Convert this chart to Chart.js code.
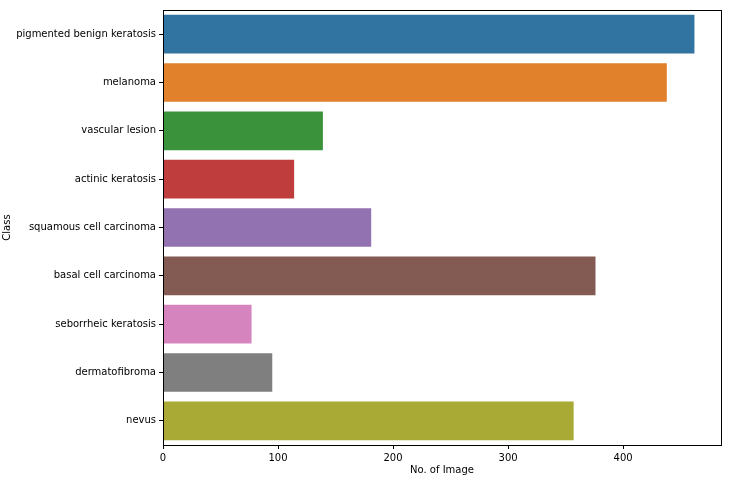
<!DOCTYPE html>
<html><head><meta charset="utf-8">
<script src="https://cdn.jsdelivr.net/npm/chart.js@4.4.0/dist/chart.umd.min.js"></script>
<style>html,body{margin:0;padding:0;background:#fff}#wrap{width:742px;height:491px}</style>
</head><body><div id="wrap"><canvas id="c" width="742" height="491"></canvas></div>
<script>
const categories = ["pigmented benign keratosis","melanoma","vascular lesion","actinic keratosis","squamous cell carcinoma","basal cell carcinoma","seborrheic keratosis","dermatofibroma","nevus"];
const counts = [462, 438, 139, 114, 181, 376, 77, 95, 357];
const colors = ["#3274a1","#e1812c","#3a923a","#c03d3e","#9372b2","#845b53","#d684bd","#7f7f7f","#a9aa35"];
const xTicks = [0, 100, 200, 300, 400];
const xMax = Math.max(...counts) * 1.05;

const boxPlugin = {
  id: 'box',
  afterDraw(chart) {
    const a = chart.chartArea, ctx = chart.ctx;
    ctx.save();
    ctx.strokeStyle = '#000';
    ctx.lineWidth = 1;
    ctx.strokeRect(Math.round(a.left) + 0.5, Math.round(a.top) + 0.5, Math.round(a.right - a.left), Math.round(a.bottom - a.top));
    ctx.restore();
  }
};

Chart.defaults.font.family = "'DejaVu Sans', sans-serif";
Chart.defaults.font.size = 10;
Chart.defaults.color = '#000';

new Chart(document.getElementById('c'), {
  type: 'bar',
  data: {
    labels: categories,
    datasets: [{ data: counts, backgroundColor: colors, borderWidth: 0, categoryPercentage: 0.8, barPercentage: 1.0 }]
  },
  options: {
    indexAxis: 'y',
    responsive: false,
    animation: false,
    devicePixelRatio: 1,
    layout: { padding: { top: 10, right: 21, left: 0, bottom: 15 } },
    plugins: { legend: { display: false }, tooltip: { enabled: false } },
    scales: {
      x: {
        type: 'linear', min: 0, max: xMax,
        afterBuildTicks(s) { s.ticks = xTicks.map(v => ({ value: v })); },
        afterFit(s) { s.height = 31; },
        grid: { display: true, drawOnChartArea: false, drawTicks: true, tickLength: 4, color: '#000' },
        border: { display: false },
        ticks: { padding: 3, color: '#000', maxRotation: 0 },
        title: { display: true, text: 'No. of Image', color: '#000', padding: { top: 0, bottom: 0 } }
      },
      y: {
        afterFit(s) { s.width = 163; },
        grid: { display: true, drawOnChartArea: false, drawTicks: true, tickLength: 4, color: '#000', offset: false },
        border: { display: false },
        ticks: { padding: 3, color: '#000', autoSkip: false },
        title: { display: true, text: 'Class', color: '#000', padding: { top: 1, bottom: 0 } }
      }
    }
  },
  plugins: [boxPlugin]
});
</script></body></html>
